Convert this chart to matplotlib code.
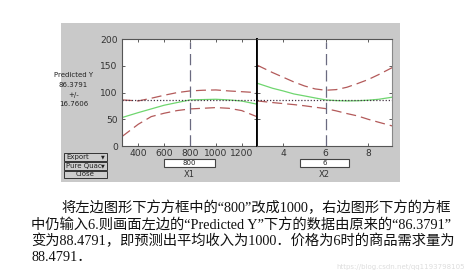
import matplotlib
matplotlib.use("Agg")
import matplotlib.pyplot as plt
from matplotlib.patches import Rectangle

W, H = 474, 277

# left plot: X1 (average income)
x1 = [274, 400, 500, 600, 700, 800, 900, 1000, 1100, 1200, 1316]
y1_fit = [53.3, 62.6, 69.5, 76.4, 81.4, 86.4, 87.0, 87.6, 86.4, 84.3, 78.5]
y1_up = [86.4, 84.5, 89.5, 95.1, 100.1, 103.2, 104.5, 105.1, 103.2, 101.8, 100.1]
y1_lo = [17.7, 40.8, 55.1, 61.4, 66.4, 69.5, 70.7, 72.0, 70.7, 66.4, 55.1]

# right plot: X2 (price)
x2 = [2.78, 3.5, 4, 4.5, 5, 5.5, 6, 6.5, 7, 7.5, 8, 8.5, 9.14]
y2_fit = [117.6, 108.2, 103.2, 97.6, 93.9, 90.1, 86.4, 85.1, 84.5, 84.8, 85.8, 87.6, 91.5]
y2_up = [151.4, 137.6, 128.9, 120.1, 112.6, 107.0, 104.5, 105.7, 110.1, 117.0, 124.5, 133.9, 147.0]
y2_lo = [84.5, 81.4, 79.5, 77.6, 75.4, 72.7, 70.1, 65.8, 60.8, 56.4, 50.1, 44.5, 37.6]

x_now = [800, 6]
y_pred = "86.3791"
y_ci = "16.7606"
x1_ticks = [400, 600, 800, 1000, 1200]
x2_ticks = [4, 6, 8]
y_ticks = [0, 50, 100, 150, 200]

lines = [
    "将左边图形下方方框中的“800”改成1000，右边图形下方的方框",
    "中仍输入6.则画面左边的“Predicted Y”下方的数据由原来的“86.3791”",
    "变为88.4791，即预测出平均收入为1000．价格为6时的商品需求量为",
    "88.4791．",
]


def fx(x):
    return x / W


def fy(y):
    return 1 - y / H


fig = plt.figure(figsize=(W / 100, H / 100), dpi=100)
fig.patch.set_facecolor("white")

# gray GUI panel
fig.add_artist(Rectangle((fx(61), fy(182)), 339 / W, 159 / H, transform=fig.transFigure,
                         fc="#c9c9c9", ec="none", zorder=-1))

ax1 = fig.add_axes([fx(122), fy(146), 134.7 / W, 106.7 / H])
ax2 = fig.add_axes([fx(257.3), fy(146), 135 / W, 106.7 / H])

red = "#b35a5a"
green = "#6fd66f"
vcol = "#6a6a80"

for ax, x, fit, up, lo, xn, xl, xt in [
    (ax1, x1, y1_fit, y1_up, y1_lo, x_now[0], (274, 1316), x1_ticks),
    (ax2, x2, y2_fit, y2_up, y2_lo, x_now[1], (2.78, 9.14), x2_ticks),
]:
    ax.plot(x, fit, color=green, lw=0.9)
    ax.plot(x, up, color=red, lw=0.9, dashes=(8, 4))
    ax.plot(x, lo, color=red, lw=0.9, dashes=(8, 4))
    ax.axhline(float(y_pred), color="#443344", lw=0.9, ls=(0, (1, 1.5)))
    ax.plot([xn, xn], [0, 195], color=vcol, lw=0.9, dashes=(9, 4))
    ax.set_xlim(*xl)
    ax.set_ylim(0, 200)
    ax.set_xticks(xt)
    ax.set_yticks(y_ticks)
    ax.tick_params(direction="in", top=True, right=True, length=2.5, width=0.6,
                   labelsize=6.6, labelcolor="#333333", pad=3, color="#444444")
    ax.tick_params(axis="x", pad=2)
    for s in ax.spines.values():
        s.set_color("#555555")
        s.set_linewidth(0.8)

ax2.set_yticklabels([])
ax1.spines["right"].set_color("black")
ax1.spines["right"].set_linewidth(1.3)
ax2.spines["left"].set_color("black")
ax2.spines["left"].set_linewidth(1.3)
ax2.spines["right"].set_color("#888888")

# left info text
for txt, yy in [("Predicted Y", 75), (y_pred, 85), ("+/-", 94.5), (y_ci, 103.5)]:
    fig.text(fx(73.5), fy(yy), txt, fontsize=5, color="#222222", ha="center", va="center")

# popup menus and button
for label, y0, y1b, arrow in [("Export", 153, 161, True), ("Pure Quac", 162, 170, True),
                              ("Close", 170.5, 178, False)]:
    fig.add_artist(Rectangle((fx(64), fy(y1b)), 43 / W, (y1b - y0) / H, transform=fig.transFigure,
                             fc="#cccccc", ec="#333333", lw=0.7, zorder=3))
    if arrow:
        fig.text(fx(66), fy((y0 + y1b) / 2), label, fontsize=5, color="#222222",
                 ha="left", va="center", zorder=4)
        fig.text(fx(102.5), fy((y0 + y1b) / 2), "▼", fontsize=3.5, color="#222222",
                 ha="center", va="center", zorder=4)
    else:
        fig.text(fx(85.5), fy((y0 + y1b) / 2), label, fontsize=5, color="#222222",
                 ha="center", va="center", zorder=4)

# edit boxes under each plot
for xa, xb, val, name in [(164, 214.7, "800", "X1"), (300, 349, "6", "X2")]:
    fig.add_artist(Rectangle((fx(xa), fy(166.5)), (xb - xa) / W, 8 / H, transform=fig.transFigure,
                             fc="white", ec="#444444", lw=0.8, zorder=3))
    fig.text(fx((xa + xb) / 2), fy(163), val, fontsize=5, color="#222222",
             ha="center", va="center", zorder=4)
    fig.text(fx((xa + xb) / 2), fy(174.5), name, fontsize=6, color="#333333",
             ha="center", va="center", zorder=4)

# caption
fam = ["Liberation Serif", "Noto Sans CJK SC"]
for txt, x0, yy in zip(lines, [61.7, 31.5, 31.5, 31.5], [207.7, 224.5, 241, 257.5]):
    fig.text(fx(x0), fy(yy), txt, fontsize=10.3, family=fam, color="#111111",
             ha="left", va="center")

fig.text(fx(336.7), fy(266.7), "https://blog.csdn.net/qq1193798105", fontsize=5,
         color="#dddddd", ha="left", va="center")

fig.savefig("out.png", dpi=100)
